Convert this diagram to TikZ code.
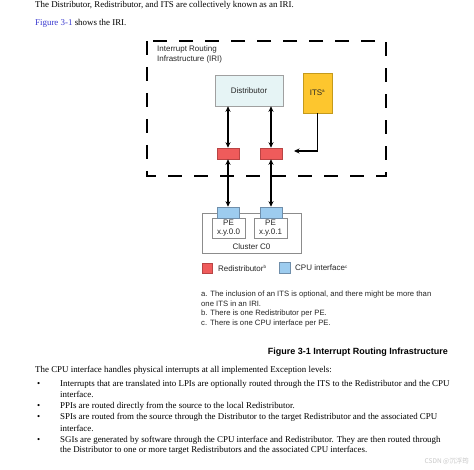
\documentclass[tikz,border=0pt]{standalone}
\usepackage{fontspec}
\setmainfont{Liberation Serif}
\newfontfamily\arialf{Liberation Sans}
\newfontfamily\cjkf{Noto Sans CJK SC}
\usetikzlibrary{arrows.meta}
\definecolor{distfill}{HTML}{E6F4F5}
\definecolor{distdraw}{HTML}{A0A0A0}
\definecolor{itsfill}{HTML}{FDC62E}
\definecolor{itsdraw}{HTML}{C49A1C}
\definecolor{redfill}{HTML}{EF5B5B}
\definecolor{reddraw}{HTML}{B84444}
\definecolor{bluefill}{HTML}{9DCCEF}
\definecolor{bluedraw}{HTML}{6F8EAA}
\definecolor{boxgray}{HTML}{8C8C8C}
\definecolor{linkblue}{HTML}{3A3AD0}
\definecolor{wmgray}{HTML}{C8C8C8}
\begin{document}
\begin{tikzpicture}[x=1pt,y=-1pt,
  lbl/.style={font=\arialf\fontsize{8}{9.5}\selectfont, text=black!85},
  note/.style={font=\arialf\fontsize{7.7}{8}\selectfont, anchor=base west, inner sep=0pt, text=black!85},
  body/.style={font=\fontsize{8.9}{10.5}\selectfont, anchor=west, inner sep=0pt},
  redbox/.style={draw=reddraw, fill=redfill, line width=0.6pt, minimum width=22pt, minimum height=11pt, inner sep=0pt},
  bluebox/.style={draw=bluedraw, fill=bluefill, line width=0.6pt, minimum width=22pt, minimum height=11pt, inner sep=0pt},
  pebox/.style={draw=boxgray, fill=white, line width=0.6pt, minimum width=33pt, minimum height=20pt, inner sep=0pt, align=center, font=\arialf\fontsize{8}{9}\selectfont, text=black!85},
  conn/.style={line width=1.3pt, {Stealth[length=5.5pt,width=5pt]}-{Stealth[length=5.5pt,width=5pt]}},
  oneway/.style={line width=1.3pt, -{Stealth[length=5.5pt,width=5pt]}}
]
\useasboundingbox (0,0) rectangle (474,470);
\fill[white] (0,0) rectangle (474,470);

% top text
\node[body] (t1) at (35,5) {The Distributor, Redistributor, and ITS are collectively known as an IRI.};
\node[body] (t2) at (35,23) {\textcolor{linkblue}{Figure 3-1} shows the IRI.};

% dashed IRI frame
\draw[line width=1.6pt, dash pattern=on 14pt off 12pt] (147,41) rectangle (386,176);
\node[lbl, anchor=north west, align=left, inner sep=0pt] (iri) at (157,46) {Interrupt Routing\\Infrastructure (IRI)};

% Distributor and ITS
\node[draw=distdraw, fill=distfill, line width=0.6pt, minimum width=68pt, minimum height=31pt, inner sep=0pt, lbl] (dist) at (249,90.5) {Distributor};
\node[draw=itsdraw, fill=itsfill, line width=0.6pt, minimum width=29pt, minimum height=40pt, inner sep=0pt, lbl] (its) at (317.5,93) {ITS\textsuperscript{\fontsize{4.5}{5}\selectfont a}};

% Redistributors
\node[redbox] (r1) at (228,153.5) {};
\node[redbox] (r2) at (271,153.5) {};

% Cluster
\node[draw=boxgray, line width=0.6pt, minimum width=99pt, minimum height=40pt, inner sep=0pt] (cl) at (251.5,233) {};
\node[lbl] (cllbl) at (251.5,246.5) {Cluster C0};
\node[pebox] (pe1) at (228.5,228) {PE\\x.y.0.0};
\node[pebox] (pe2) at (270.5,228) {PE\\x.y.0.1};
\node[bluebox] (b1) at (228,212.5) {};
\node[bluebox] (b2) at (271,212.5) {};

% connectors
\draw[conn] (dist.south -| r1.north) -- (r1.north);
\draw[conn] (dist.south -| r2.north) -- (r2.north);
\draw[conn] (r1.south) -- (b1.north);
\draw[conn] (r2.south) -- (b2.north);
\coordinate (itsend) at (294,151);
\draw[oneway] (its.south) |- (itsend);

% legend
\node[draw=reddraw, fill=redfill, line width=0.6pt, minimum size=10pt, inner sep=0pt] (lr) at (207,268) {};
\node[lbl, anchor=west, inner sep=0pt] (lrt) at (218,268) {Redistributor\textsuperscript{\fontsize{4.5}{5}\selectfont b}};
\node[draw=bluedraw, fill=bluefill, line width=0.6pt, minimum size=11pt, inner sep=0pt] (lb) at (284.5,268) {};
\node[lbl, anchor=west, inner sep=0pt] (lbt) at (295,268) {CPU interface\textsuperscript{\fontsize{4.5}{5}\selectfont c}};

% notes
\node[note] (n1) at (201,297) {a. The inclusion of an ITS is optional, and there might be more than};
\node[note] (n2) at (201,306.5) {one ITS in an IRI.};
\node[note] (n3) at (201,316) {b. There is one Redistributor per PE.};
\node[note] (n4) at (201,325.5) {c. There is one CPU interface per PE.};

% caption
\node[font=\arialf\bfseries\fontsize{9}{11}\selectfont, anchor=east, inner sep=0pt] (cap) at (448,352) {Figure 3-1 Interrupt Routing Infrastructure};

% body text
\node[body] (p0) at (35,370) {The CPU interface handles physical interrupts at all implemented Exception levels:};
\node[body] (bu1) at (37,384) {\textbullet};
\node[body] (l1) at (60,384) {Interrupts that are translated into LPIs are optionally routed through the ITS to the Redistributor and the CPU};
\node[body] (l1b) at (60,394.5) {interface.};
\node[body] (bu2) at (37,406) {\textbullet};
\node[body] (l2) at (60,406) {PPIs are routed directly from the source to the local Redistributor.};
\node[body] (bu3) at (37,417.5) {\textbullet};
\node[body] (l3) at (60,417.5) {SPIs are routed from the source through the Distributor to the target Redistributor and the associated CPU};
\node[body] (l3b) at (60,428) {interface.};
\node[body] (bu4) at (37,440) {\textbullet};
\node[body] (l4) at (60,440) {SGIs are generated by software through the CPU interface and Redistributor. They are then routed through};
\node[body] (l4b) at (60,450) {the Distributor to one or more target Redistributors and the associated CPU interfaces.};

% watermark
\node[font=\cjkf\fontsize{6.5}{7}\selectfont, text=wmgray, anchor=east, inner sep=0pt] (wm) at (469,461) {CSDN @沉浮筠};
\end{tikzpicture}
\end{document}
